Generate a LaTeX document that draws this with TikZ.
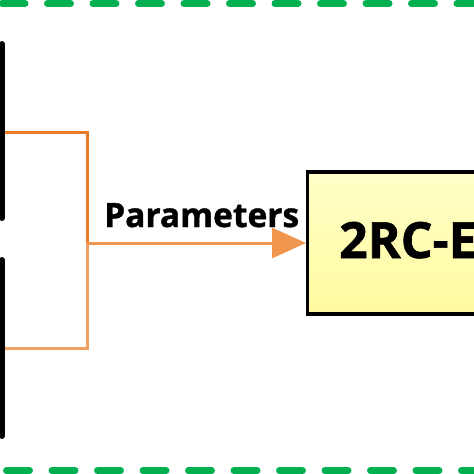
\documentclass[tikz,border=0pt]{standalone}
\usepackage{fontspec}
\setmainfont{Open Sans}
\newfontfamily\heavy[BoldFeatures={FakeBold=1.2}]{Open Sans}
\usetikzlibrary{arrows.meta}
\definecolor{dgreen}{RGB}{0,176,80}
\definecolor{orangeA}{RGB}{234,122,40}
\definecolor{orangeB}{RGB}{240,160,100}
\definecolor{orangeC}{RGB}{241,150,78}
\definecolor{boxtop}{RGB}{255,255,200}
\definecolor{boxbot}{RGB}{255,250,160}
\tikzset{
  frameline/.style={draw=dgreen, line width=7pt, line cap=round, dash pattern=on 23pt off 22.5pt},
  barline/.style={draw=black, line width=6pt, line cap=round},
  wireA/.style={draw=orangeA, line width=3pt},
  wireB/.style={draw=orangeB, line width=3pt},
  arrowwire/.style={draw=orangeC, line width=3pt, -{Triangle[length=34pt,width=30pt]}},
  blockbox/.style={draw=black, line width=3.2pt, top color=boxtop, bottom color=boxbot, minimum width=260pt, minimum height=142pt, inner sep=0pt, anchor=west},
  lbl/.style={inner sep=0pt, anchor=base west}
}
\begin{document}
\begin{tikzpicture}[x=1pt,y=-1pt]
\useasboundingbox (0,0) rectangle (474,474);
\clip (0,0) rectangle (474,474);
% green dashed frame lines
\coordinate (gt1) at (2,3.5);
\coordinate (gt2) at (490,3.5);
\coordinate (gb1) at (6.5,470.5);
\coordinate (gb2) at (490,470.5);
\draw[frameline] (gt1) -- (gt2);
\draw[frameline] (gb1) -- (gb2);
% black bars
\coordinate (b1t) at (2,44);
\coordinate (b1b) at (2,218);
\coordinate (b2t) at (2,260);
\coordinate (b2b) at (2,436);
\draw[barline] (b1t) -- (b1b);
\draw[barline] (b2t) -- (b2b);
% block
\node[blockbox] (blk) at (306,243) {};
\node[lbl, font=\heavy\bfseries\fontsize{50}{55}\selectfont] (blktext) at (339,258) {2RC-E};
% orange wiring
\coordinate (o1) at (5,132);
\coordinate (o2) at (87,132);
\coordinate (jn) at (87,243);
\coordinate (o3) at (87,348);
\coordinate (o4) at (5,348);
\draw[wireA] (o1) -- (o2) -- (jn);
\draw[wireB] (jn) -- (o3) -- (o4);
\draw[arrowwire] (jn) -- (blk.west);
\node[lbl, font=\heavy\bfseries\fontsize{33.5}{38}\selectfont] (param) at (104,227) {Parameters};
\end{tikzpicture}
\end{document}
